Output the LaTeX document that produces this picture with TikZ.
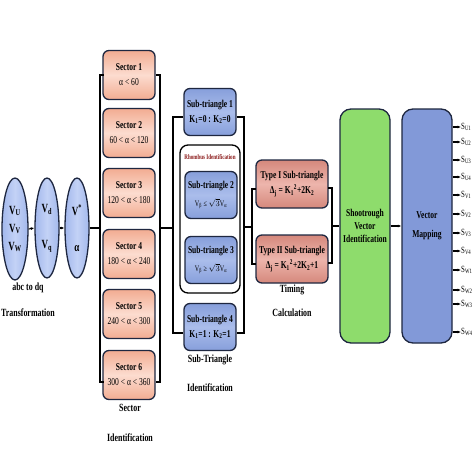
\documentclass[tikz,border=0pt]{standalone}
\usepackage{fontspec}
\setmainfont{Liberation Serif}[FakeStretch=0.72]
\usetikzlibrary{shapes.geometric,arrows.meta}
\definecolor{bord}{HTML}{1E2740}
\definecolor{ellc}{HTML}{A3B8EC}
\definecolor{ellm}{HTML}{C3D2F6}
\definecolor{secc}{HTML}{F2AC92}
\definecolor{secm}{HTML}{FCDCCF}
\definecolor{subc}{HTML}{879FDB}
\definecolor{subm}{HTML}{AABDEB}
\definecolor{typc}{HTML}{D5887C}
\definecolor{typm}{HTML}{EDB5AC}
\definecolor{grn}{HTML}{8EDC6C}
\definecolor{vmc}{HTML}{8299D8}
\definecolor{rhomb}{HTML}{8B1A1A}
\begin{document}
\begin{tikzpicture}[x=1pt,y=-1pt,
  ell/.style={ellipse,draw=bord,line width=1.3pt,inner sep=0pt,
    left color=ellc,right color=ellc,middle color=ellm,
    font=\fontsize{12.5}{14}\selectfont\bfseries,align=center},
  boxbase/.style={rectangle,rounded corners=6pt,draw=bord,line width=1.3pt,
    align=center,inner sep=1pt,font=\fontsize{10.5}{15}\selectfont},
  sectorbox/.style={boxbase,minimum width=52,minimum height=49,
    top color=secc,bottom color=secc,middle color=secm},
  subbox/.style={boxbase,minimum width=52,minimum height=47,
    top color=subc,bottom color=subc,middle color=subm},
  typebox/.style={boxbase,minimum width=72,minimum height=48,
    top color=typc,bottom color=typc,middle color=typm},
  groupbox/.style={rectangle,rounded corners=8pt,draw=black,line width=1.3pt,
    fill=white,minimum width=60,minimum height=148},
  tallbox/.style={boxbase,rounded corners=11pt,minimum width=50,minimum height=234,
    font=\fontsize{10.5}{13}\selectfont\bfseries},
  brk/.style={draw=black,line width=1.2pt},
  conn/.style={draw=black,line width=1.3pt},
  arr/.style={draw=black,line width=1.1pt,-{Latex[length=3.5pt,width=3pt]}},
  lbl/.style={font=\fontsize{11}{12}\selectfont\bfseries,inner sep=0pt},
  outlbl/.style={font=\fontsize{9.5}{10}\selectfont,inner sep=0pt,anchor=west}]
\useasboundingbox (0,0) rectangle (474,474);
\fill[white] (0,0) rectangle (474,474);

% ellipses
\node[ell,minimum width=26,minimum height=102] (e1) at (15,229)
  {V\textsubscript{U}\\[4pt]V\textsubscript{V}\\[4pt]V\textsubscript{W}};
\node[ell,minimum width=24,minimum height=100] (e2) at (47,228)
  {V\textsubscript{d}\\[22pt]V\textsubscript{q}};
\node[ell,minimum width=24,minimum height=100] (e3) at (77,228)
  {V\textsuperscript{*}\\[22pt]α};
\draw[arr] (e1.east) -- (e2.west);
\draw[arr] (e2.east) -- (e3.west);
\node[lbl] (t1) at (28,288) {abc to dq};
\node[lbl] (t2) at (28,313) {Transformation};

% sectors
\node[sectorbox] (s1) at (129,75)  {\textbf{Sector 1}\\α < 60};
\node[sectorbox] (s2) at (129,133) {\textbf{Sector 2}\\60 < α < 120};
\node[sectorbox] (s3) at (129,193) {\textbf{Sector 3}\\120 < α < 180};
\node[sectorbox] (s4) at (129,254) {\textbf{Sector 4}\\180 < α < 240};
\node[sectorbox] (s5) at (129,314) {\textbf{Sector 5}\\240 < α < 300};
\node[sectorbox] (s6) at (129,375) {\textbf{Sector 6}\\300 < α < 360};
\coordinate (secL) at (100,228);
\coordinate (secR) at (160,228);
\draw[brk] (104,75) -- (100,75) -- (100,382) -- (104,382);
\draw[brk] (156,75) -- (160,75) -- (160,382) -- (156,382);
\draw[conn] (e3.east) -- (secL);
\node[lbl] (t3) at (130,408) {Sector};
\node[lbl] (t4) at (130,438) {Identification};

% sub-triangles
\node[groupbox] (grp) at (210,219) {};
\node[font=\fontsize{7}{8}\selectfont\bfseries,text=rhomb,inner sep=0pt] (rh) at (210,157) {Rhombus Identification};
\node[subbox] (st1) at (210,112) {\textbf{Sub-triangle 1}\\\textbf{K\textsubscript{1}=0 : K\textsubscript{2}=0}};
\node[subbox] (st2) at (211,195) {\textbf{Sub-triangle 2}\\[3pt]{\fontsize{8.5}{9}\selectfont V\textsubscript{β} ≤ $\sqrt{3}$V\textsubscript{α}}};
\node[subbox] (st3) at (211,260) {\textbf{Sub-triangle 3}\\[3pt]{\fontsize{8.5}{9}\selectfont V\textsubscript{β} ≥ $\sqrt{3}$V\textsubscript{α}}};
\node[subbox] (st4) at (210,327) {\textbf{Sub-triangle 4}\\\textbf{K\textsubscript{1}=1 : K\textsubscript{2}=1}};
\coordinate (subL) at (173,228);
\coordinate (subR) at (244,227);
\draw[brk] (183,117) -- (173,117) -- (173,333) -- (183,333);
\draw[brk] (237,117) -- (244,117) -- (244,333) -- (237,333);
\draw[conn] (secR) -- (subL);
\node[lbl] (t5) at (210,360) {Sub-Triangle};
\node[lbl] (t6) at (210,388) {Identification};

% timing
\node[typebox] (ty1) at (292,184) {\textbf{Type I Sub-triangle}\\\textbf{Δ\textsubscript{j} = K\textsubscript{1}\textsuperscript{2}+2K\textsubscript{2}}};
\node[typebox] (ty2) at (292,259) {\textbf{Type II Sub-triangle}\\\textbf{Δ\textsubscript{j} = K\textsubscript{1}\textsuperscript{2}+2K\textsubscript{2}+1}};
\coordinate (typL) at (252,227);
\coordinate (typR) at (332,226);
\draw[brk] (256,189) -- (252,189) -- (252,264) -- (256,264);
\draw[brk] (328,188) -- (332,188) -- (332,263) -- (328,263);
\draw[conn] (subR) -- (typL);
\node[lbl] (t7) at (292,290) {Timing};
\node[lbl] (t8) at (292,313) {Calculation};

% big boxes
\node[tallbox,fill=grn] (gr) at (365,226) {Shootrough\\Vector\\Identification};
\node[tallbox,fill=vmc] (vm) at (427,226) {Vector\\[6pt]Mapping};
\draw[conn] (typR) -- (typR -| gr.west);
\draw[arr] (gr.east) -- (vm.west);

% outputs
\foreach \nm/\yy/\lab in {o1/127/U1,o2/142/U2,o3/160/U3,o4/177/U4,o5/195/V1,o6/214/V2,o7/233/V3,o8/251/V4,o9/270/W1,o10/290/W2,o11/304/W3,o12/332/W4}{
  \node[outlbl] (\nm) at (461,\yy) {S\textsubscript{\lab}};
  \draw[arr] (\nm.west -| vm.east) -- (\nm.west);
}
\end{tikzpicture}
\end{document}
